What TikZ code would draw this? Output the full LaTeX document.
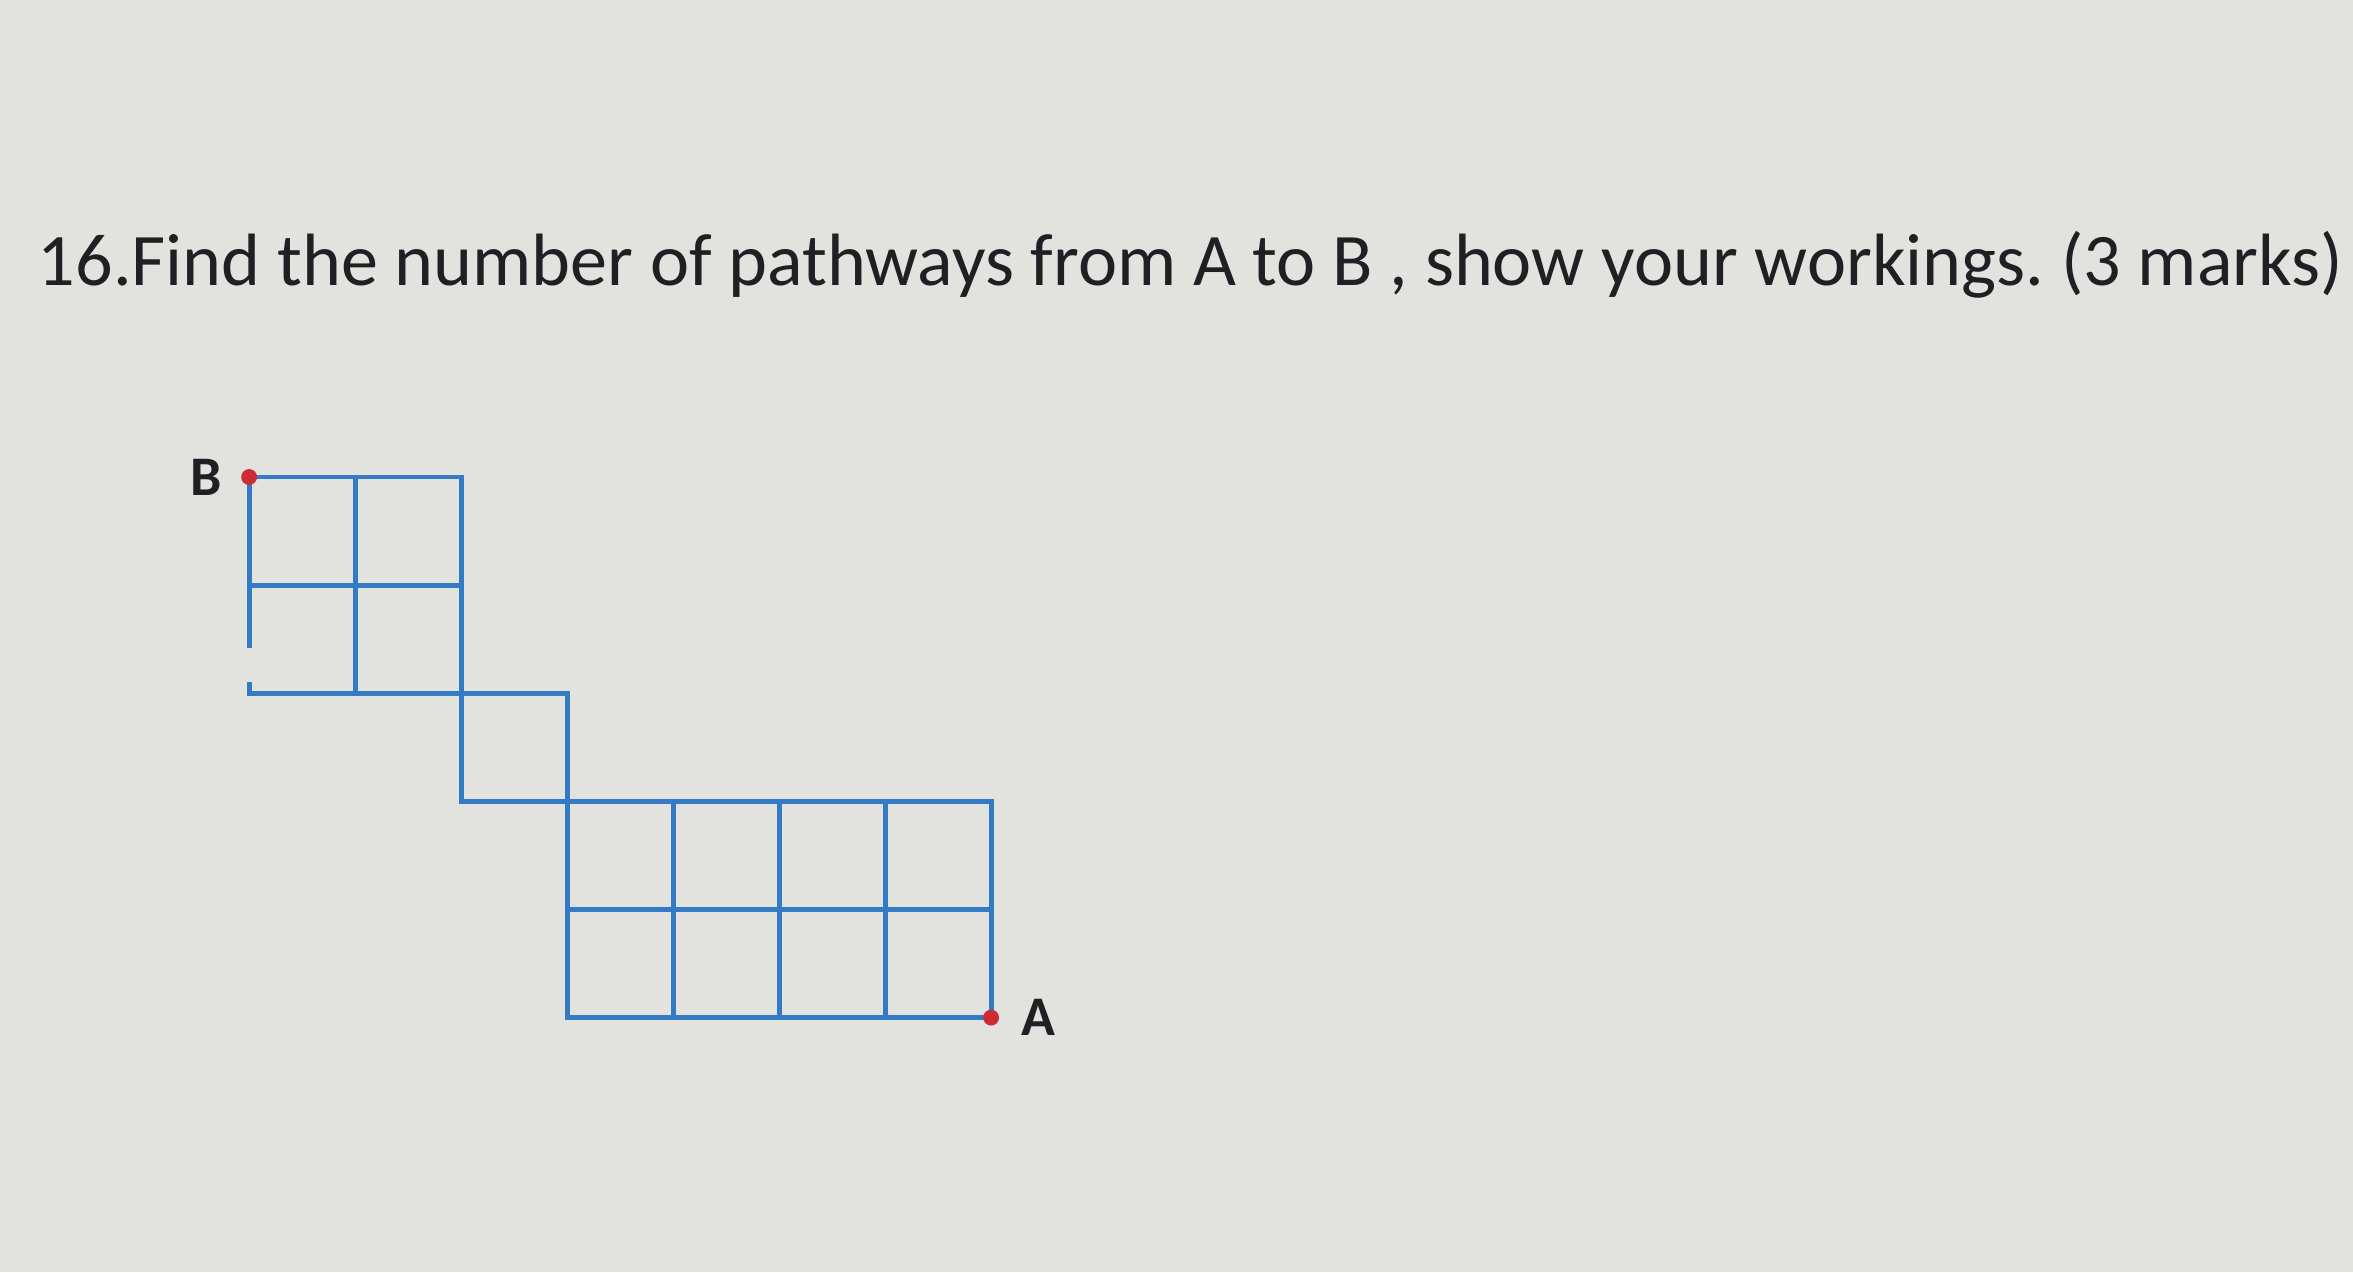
\documentclass[tikz,border=0pt]{standalone}
\usepackage{fontspec}
\setmainfont{Carlito}
\usetikzlibrary{positioning}
\definecolor{gridblue}{RGB}{52,122,196}
\definecolor{dotred}{RGB}{205,45,50}
\definecolor{paper}{RGB}{226,226,223}
\definecolor{ink}{RGB}{32,32,36}
\tikzset{
	pathgrid/.style={gridblue,line width=1.3pt,line join=miter},
	enddot/.style={circle,fill=dotred,inner sep=0pt,minimum size=0.15cm},
	ptlabel/.style={ink,inner sep=0pt,font=\bfseries\fontsize{15}{18}\selectfont}
}
\frenchspacing
\begin{document}
\begin{tikzpicture}
	\useasboundingbox (0,0) rectangle (22.198,12);
	\fill[paper] (0,0) rectangle (22.198,12);
	\node[ink,anchor=base west,inner sep=0pt,font=\fontsize{19.9}{24}\selectfont] (question) at (0.35,9.31)
		{16.Find the number of pathways from A to B , show your workings. (3 marks)};
	\begin{scope}[shift={(2.35,2.4)},yscale=1.02]
		\draw[pathgrid] (0,5) -- (2,5) -- (2,2) -- (7,2) -- (7,0) -- (3,0) -- (3,3) -- (0,3) -- (0,3.1);
		\draw[pathgrid] (0,3.42) -- (0,5);
		\draw[pathgrid] (0,4) -- (2,4) (1,3) -- (1,5);
		\draw[pathgrid] (3,1) -- (7,1);
		\foreach \col in {4,5,6}
			\draw[pathgrid] (\col,0) -- (\col,2);
		\node[enddot] (B) at (0,5) {};
		\node[enddot] (A) at (7,0) {};
	\end{scope}
	\node[ptlabel,left=0.17cm of B] (Blabel) {B};
	\node[ptlabel,right=0.2cm of A] (Alabel) {A};
\end{tikzpicture}
\end{document}
